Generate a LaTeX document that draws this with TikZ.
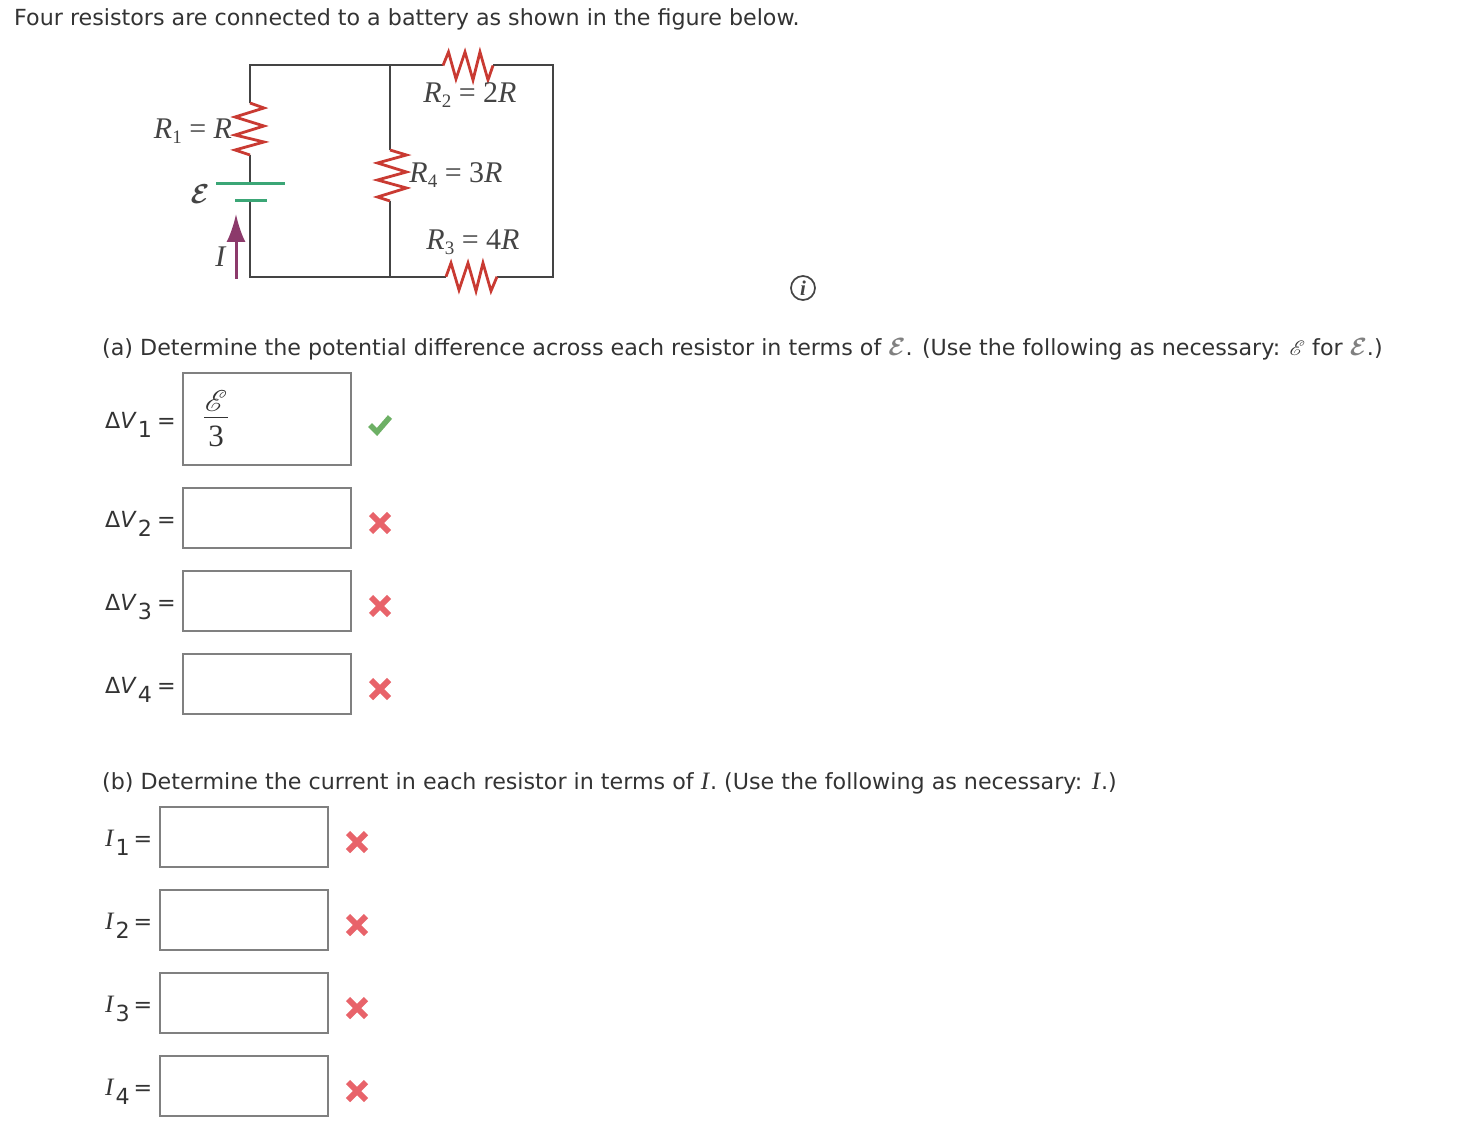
\documentclass[tikz,border=0pt]{standalone}
\usepackage{fontspec}
\usepackage{mathrsfs}
\setmainfont{DejaVu Sans}
\newfontfamily\labfont{Liberation Serif}
\usetikzlibrary{arrows.meta}
\definecolor{wirecol}{HTML}{444444}
\definecolor{rescol}{HTML}{C93A32}
\definecolor{batcol}{HTML}{3BA676}
\definecolor{arrcol}{HTML}{8C3A6B}
\definecolor{boxcol}{HTML}{808080}
\definecolor{txtcol}{HTML}{333333}
\definecolor{crosscol}{HTML}{E8636A}
\definecolor{checkcol}{HTML}{6DB065}
\tikzset{
	wire/.style={draw=wirecol,line width=2pt},
	resistor/.style={draw=rescol,line width=2.8pt,line join=miter},
	plate/.style={draw=batcol,line width=3pt},
	txt/.style={anchor=base west,inner sep=0pt,text=txtcol,font=\fontsize{22.2}{26}\selectfont},
	lab/.style={inner sep=0pt,text=wirecol,font=\labfont\fontsize{30}{32}\selectfont},
	ansbox/.style={draw=boxcol,line width=1.8pt,minimum width=168pt,anchor=north west,inner sep=0pt,outer sep=0pt},
	cross/.pic={\draw[crosscol,line width=6pt] (-9,-9) -- (9,9) (-9,9) -- (9,-9);},
	tick/.pic={\draw[checkcol,line width=5.5pt,line join=miter] (-10,1) -- (-3,8) -- (10,-7);}
}
\newcommand{\bigE}{\textcolor{gray}{\fontsize{29}{26}\selectfont\boldmath$\mathcal{E}$}}
\newcommand{\itI}{{\labfont\fontsize{25}{26}\selectfont\textit{I}}}
\newcommand{\subnum}[1]{\kern1pt\raisebox{-9pt}{#1}}
\newcommand{\labsub}[1]{\raisebox{-5pt}{\fontsize{19}{20}\selectfont #1}}
\begin{document}
\begin{tikzpicture}[x=1pt,y=-1pt]
	\useasboundingbox (0,0) rectangle (1476,1142);
	% circuit corners
	\coordinate (tl) at (250,65.5);
	\coordinate (tm) at (390,65.5);
	\coordinate (tr) at (553,65.5);
	\coordinate (bl) at (250,276.7);
	\coordinate (bm) at (390,276.7);
	\coordinate (br) at (553,276.7);
	\coordinate (r1a) at (250,103);
	\coordinate (r1b) at (250,155);
	\coordinate (r4a) at (390,150);
	\coordinate (r4b) at (390,201);
	\coordinate (r2a) at (443,65.5);
	\coordinate (r2b) at (493,65.5);
	\coordinate (r3a) at (446,276.7);
	\coordinate (r3b) at (497,276.7);
	\coordinate (bata) at (250,184);
	\coordinate (batb) at (250,201);
	\coordinate (itail) at (236,279);
	\coordinate (ihead) at (236,214);
	\draw[wire] (r1a) -- (tl) -- (r2a);
	\draw[wire] (r2b) -- (tr) -- (br) -- (r3b);
	\draw[wire] (r3a) -- (bl) -- (batb);
	\draw[wire] (r1b) -- (bata);
	\draw[wire] (tm) -- (r4a);
	\draw[wire] (r4b) -- (bm);
	% resistors
	\draw[resistor] (r1a) -- (264,108) -- (235,117) -- (264,126) -- (235,135) -- (264,142) -- (235,150) -- (r1b);
	\draw[resistor] (r4a) -- (406.5,155) -- (377.5,163) -- (406.5,172) -- (377.5,180) -- (406.5,188) -- (377.5,197) -- (r4b);
	\draw[resistor] (r2a) -- (448.5,52) -- (456,79) -- (465,52) -- (473,80) -- (480,52) -- (488,80) -- (r2b);
	\draw[resistor] (r3a) -- (451,263) -- (459,290) -- (468,263) -- (476,291) -- (483,263) -- (491,291) -- (r3b);
	% battery
	\draw[plate] (216,184) -- (285,184);
	\draw[plate] (235,201) -- (267,201);
	\draw[arrcol,line width=3pt,-{Latex[length=28pt,width=19pt]}] (itail) -- (ihead);
	% circuit labels
	\node[lab] (r1lab) at (193,131) {\textit{R}\labsub{1} = \textit{R}};
	\node[lab] (r2lab) at (470,95) {\textit{R}\labsub{2} = 2\textit{R}};
	\node[lab] (r4lab) at (456,175) {\textit{R}\labsub{4} = 3\textit{R}};
	\node[lab] (r3lab) at (473,242) {\textit{R}\labsub{3} = 4\textit{R}};
	\node[lab,font=\fontsize{27}{30}\selectfont\boldmath] (emf) at (200,194) {\scalebox{1.1}{$\mathcal{E}$}};
	\node[lab] (ilab) at (221,257) {\textit{I}};
	% info icon
	\node[circle,draw=wirecol,line width=1.7pt,minimum size=24pt,inner sep=0pt,text=wirecol,font=\labfont\fontsize{21}{22}\selectfont] (info) at (803,288) {\textbf{\textit{i}}};
	% question text
	\node[txt] (intro) at (14,26) {Four resistors are connected to a battery as shown in the figure below.};
	\node[txt] (parta) at (102,355) {(a) Determine the potential difference across each resistor in terms of \bigE. (Use the following as necessary: $\mathscr{E}$ for \bigE.)};
	\node[txt] (partb) at (102,789) {(b) Determine the current in each resistor in terms of \itI. (Use the following as necessary: \itI.)};
	% part (a)
	\node[ansbox,minimum height=92pt] (boxa1) at (183,373) {};
	\node[txt] (lva1) at (105,428) {Δ\textit{V}\subnum{1}\kern-2pt{} =};
	\node[inner sep=0pt,text=txtcol] (fracn) at (216,401) {\scalebox{3}{\boldmath$\mathscr{E}$}};
	\node[inner sep=0pt,text=txtcol,font=\labfont\fontsize{31}{34}\selectfont] (fracd) at (216,436) {3};
	\draw[txtcol,line width=1.6pt] (fracd.north) ++(-12,-8) -- ++(24,0);
	\pic at (380,424) {tick};
	\foreach \n/\y in {2/488,3/571,4/654}{
		\node[ansbox,minimum height=60pt] (boxa\n) at (183,\y) {};
		\node[txt] (lva\n) at (105,\y+39) {Δ\textit{V}\subnum{\n}\kern-2pt{} =};
		\pic at (380,\y+35) {cross};
	}
	% part (b)
	\foreach \n/\y in {1/807,2/890,3/973,4/1056}{
		\node[ansbox,minimum height=60pt] (boxb\n) at (160,\y) {};
		\node[txt] (lib\n) at (105,\y+39) {\itI\subnum{\n}\kern-3pt{} =};
		\pic at (357,\y+35) {cross};
	}
\end{tikzpicture}
\end{document}
